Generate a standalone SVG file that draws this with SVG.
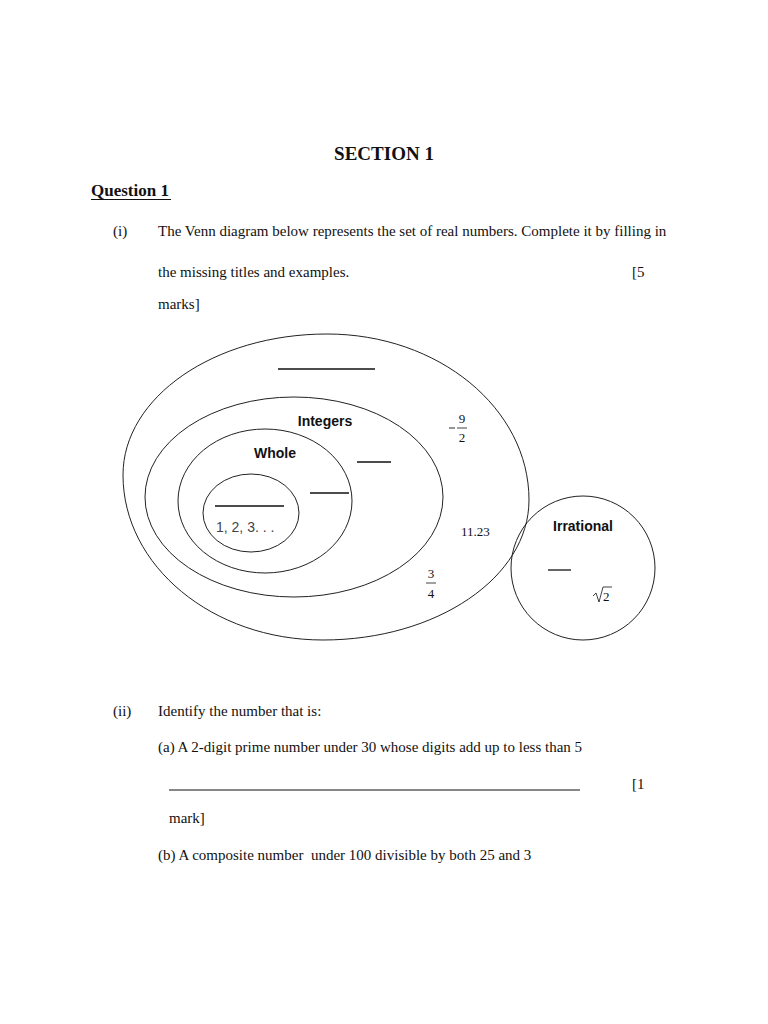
<svg xmlns="http://www.w3.org/2000/svg" width="768" height="1024" viewBox="0 0 768 1024">
<style>
.t{font-family:"Liberation Serif","Times New Roman",serif;font-size:15px;fill:#111}
.h{font-family:"Liberation Serif","Times New Roman",serif;font-size:17px;font-weight:bold;fill:#111}
.lab{font-family:"Liberation Sans",Arial,sans-serif;font-size:14px;font-weight:bold;fill:#111}
.s{font-family:"Liberation Serif","Times New Roman",serif;font-size:13px;fill:#111}
.sh{fill:none;stroke:#222;stroke-width:1}
.ln{stroke:#111;stroke-width:1.3}
</style>
<rect width="768" height="1024" fill="#fff"/>
<g id="header">
<text class="h" x="384" y="160" text-anchor="middle" style="font-size:19px">SECTION 1</text>
<text class="h" x="91" y="196">Question 1</text>
<line x1="91" y1="199.5" x2="171" y2="199.5" stroke="#111" stroke-width="1.2"/>
<text class="t" x="113" y="236">(i)</text>
<text class="t" x="158" y="236">The Venn diagram below represents the set of real numbers. Complete it by filling in</text>
<text class="t" x="158" y="277">the missing titles and examples.</text>
<text class="t" x="632" y="277">[5</text>
<text class="t" x="158" y="309">marks]</text>
</g>
<g id="real">
<path class="sh" d="M327 334 C438.5 334 529 408.4 529 500 C529 577.3 436.7 640 323 640 C212.6 640 123 566 123 475 C123 397.2 214.4 334 327 334 Z"/>
<line class="ln" x1="278" y1="369" x2="375" y2="369"/>
<line x1="449" y1="428" x2="455" y2="428" stroke="#111" stroke-width="0.9"/>
<text class="s" x="462" y="423" text-anchor="middle">9</text>
<line x1="457" y1="428" x2="467" y2="428" stroke="#111" stroke-width="0.8"/>
<text class="s" x="462" y="442" text-anchor="middle">2</text>
<text class="s" x="461" y="536">11.23</text>
<text class="s" x="431" y="578" text-anchor="middle">3</text>
<line x1="426" y1="583" x2="436" y2="583" stroke="#111" stroke-width="0.8"/>
<text class="s" x="431" y="598" text-anchor="middle">4</text>
</g>
<g id="integers">
<ellipse class="sh" cx="294" cy="497" rx="149" ry="100"/>
<text class="lab" x="325" y="426" text-anchor="middle">Integers</text>
<line class="ln" x1="357" y1="462" x2="391" y2="462"/>
</g>
<g id="whole">
<ellipse class="sh" cx="265" cy="501" rx="87" ry="72"/>
<text class="lab" x="275" y="458" text-anchor="middle">Whole</text>
<line class="ln" x1="310" y1="493" x2="349" y2="493"/>
</g>
<g id="natural">
<ellipse class="sh" cx="251" cy="513" rx="48" ry="39"/>
<line class="ln" x1="215" y1="506" x2="284" y2="506"/>
<text x="216" y="532" font-family="Liberation Sans,Arial,sans-serif" font-size="14" fill="#444">1, 2, 3. . .</text>
</g>
<g id="irrational">
<circle class="sh" cx="583" cy="568" r="72"/>
<text class="lab" x="583" y="531" text-anchor="middle">Irrational</text>
<line class="ln" x1="548" y1="570" x2="571" y2="570"/>
<path d="M593 596 L596 593 L599 602 L603 587 L612 587" fill="none" stroke="#111" stroke-width="0.8"/>
<text class="s" x="603" y="601">2</text>
</g>
<g id="part2">
<text class="t" x="113" y="716">(ii)</text>
<text class="t" x="158" y="716">Identify the number that is:</text>
<text class="t" x="158" y="752">(a) A 2-digit prime number under 30 whose digits add up to less than 5</text>
<line x1="169" y1="790" x2="580" y2="790" stroke="#111" stroke-width="1"/>
<text class="t" x="632" y="789">[1</text>
<text class="t" x="169" y="823">mark]</text>
<text class="t" x="158" y="860" xml:space="preserve">(b) A composite number  under 100 divisible by both 25 and 3</text>
</g>
</svg>
